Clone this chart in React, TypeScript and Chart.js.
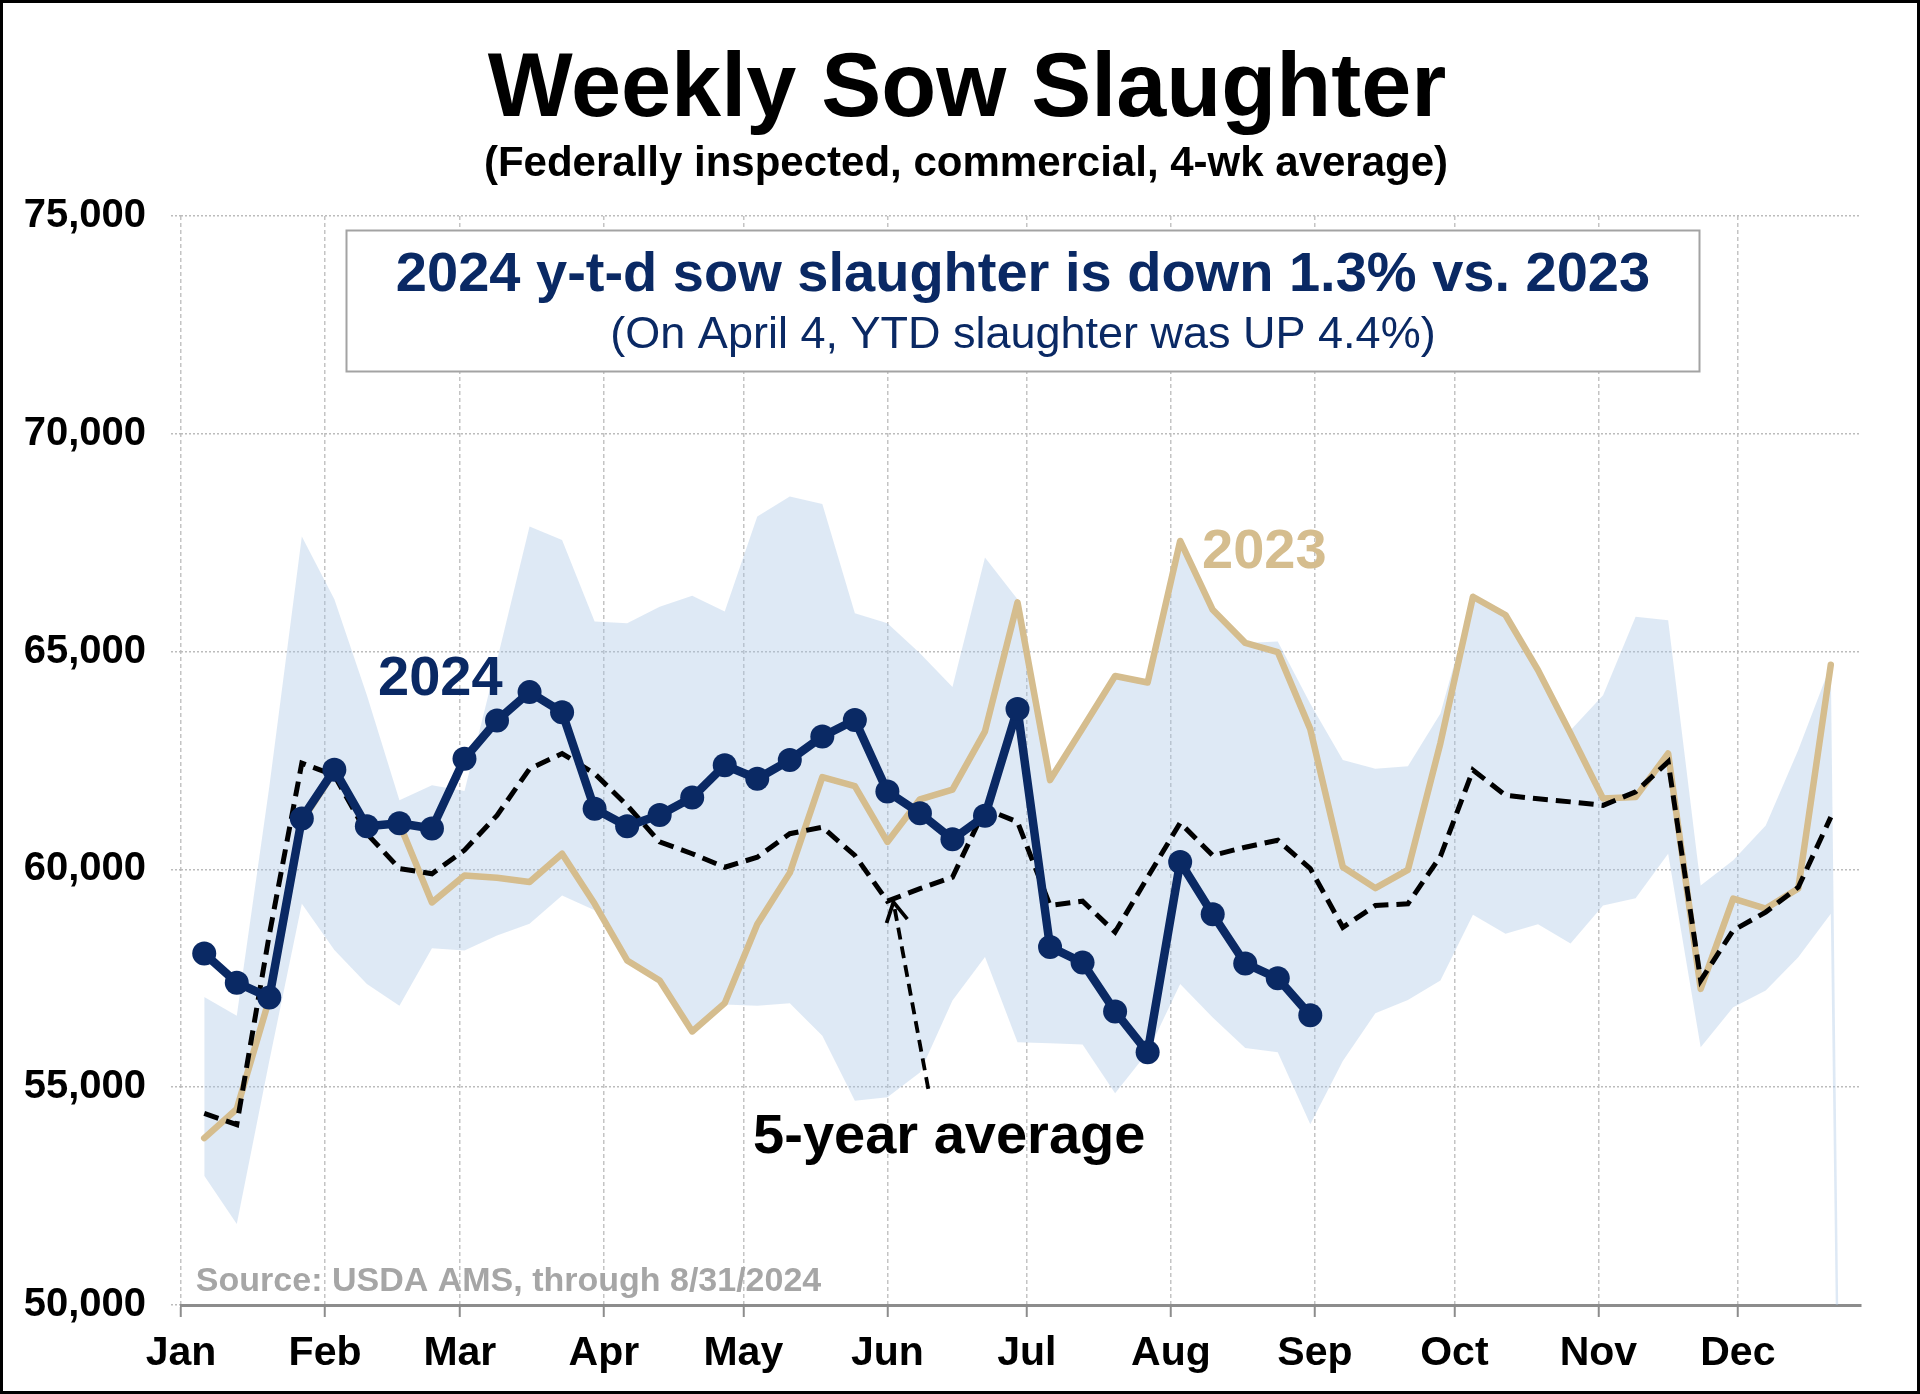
import React, { useEffect, useRef } from "react";
import { Chart, registerables } from "chart.js";

Chart.register(...registerables);

const FONT = '"Liberation Sans", Arial, Helvetica, sans-serif';
const NAVY = "#0a2964";
const TAN = "#d5bd8e";
const BAND = "rgba(168,197,229,0.38)";

// ---- axis definitions ----
const monthLabels = ["Jan", "Feb", "Mar", "Apr", "May", "Jun", "Jul", "Aug", "Sep", "Oct", "Nov", "Dec"];
const monthStartDays = [0, 31, 60, 91, 121, 152, 182, 213, 244, 274, 305, 335];
const yTicks = [50000, 55000, 60000, 65000, 70000, 75000];
const xMaxDay = 361.5;
const firstWeekEndingDay = 5; // Saturday Jan 6
const daysPerWeek = 7;

// ---- series (weekly, 4-wk average sow slaughter) ----
const sow2024 = [
  58070, 57400, 57060, 61170, 62290, 60990, 61060, 60940, 62540, 63420,
  64070, 63610, 61390, 60990, 61250, 61650, 62390, 62080, 62510, 63050,
  63430, 61790, 61290, 60690, 61230, 63680, 58220, 57860, 56740, 55800,
  60170, 58970, 57840, 57500, 56650,
];

const sow2023 = [
  53830, 54500, 57030, 61100, 62250, 61000, 61050, 59240, 59860, 59810,
  59710, 60360, 59210, 57910, 57450, 56280, 56930, 58740, 59920, 62120,
  61910, 60630, 61610, 61830, 63170, 66130, 62050, 63240, 64440, 64290,
  67540, 65960, 65200, 64990, 63220, 60055, 59570, 59990, 62900, 66260,
  65840, 64575, 63120, 61625, 61660, 62660, 57257, 59330, 59100, 59560,
  64700,
];

const fiveYearAvg = [
  54400, 54140, 58500, 62440, 62160, 60820, 60020, 59900, 60440, 61240,
  62310, 62660, 62200, 61470, 60630, 60360, 60050, 60280, 60820, 60970,
  60320, 59270, 59560, 59820, 61390, 61090, 59170, 59270, 58560, 59820,
  61070, 60320, 60510, 60670, 60020, 58670, 59170, 59210, 60300, 62280,
  61700, 61620, 61550, 61470, 61780, 62470, 57450, 58600, 59020, 59590,
  61200,
];

const rangeHigh = [
  57070, 56640, 61900, 67640, 66200, 64000, 61590, 61930, 61800, 64800,
  67870, 67560, 65690, 65650, 66030, 66280, 65920, 68100, 68560, 68390,
  65880, 65650, 64960, 64190, 67160, 66200, 62200, 63240, 64440, 64290,
  67540, 65960, 65200, 65230, 63800, 62510, 62310, 62370, 63580, 66260,
  65840, 64575, 63195, 64000, 65800, 65720, 59630, 60210, 61010, 62740,
  64700, 0,
];

const rangeLow = [
  52970, 51860, 55600, 59210, 58150, 57370, 56870, 58190, 58140, 58480,
  58750, 59400, 59060, 57910, 57450, 56280, 56900, 56870, 56930, 56180,
  54690, 54770, 55340, 56990, 57990, 56030, 56010, 55980, 54860, 55800,
  57370, 56600, 55900, 55800, 54150, 55600, 56700, 57000, 57450, 58960,
  58520, 58740, 58300, 59170, 59340, 60360, 55915, 56835, 57220, 57985,
  58980, 0,
];

// ---- annotation anchors (day of year, head count) ----
const label2024At = [42.4, 64000];
const label2023At = [219.7, 66920];
const labelAvgAt = [123.1, 53500];
const sourceAt = [3.2, 50320];
const arrowTip = [153.3, 59250];
const arrowTail = [160.8, 54960];

const weekDay = (i: number) => firstWeekEndingDay + daysPerWeek * i;
const toPoints = (arr: number[]) => arr.map((v, i) => ({ x: weekDay(i), y: v }));

const decorations = {
  id: "decorations",
  afterDatasetsDraw(chart: any) {
    const { ctx } = chart;
    const xs = chart.scales.x;
    const ys = chart.scales.y;
    const px = (d: number) => xs.getPixelForValue(d);
    const py = (v: number) => ys.getPixelForValue(v);
    ctx.save();
    // arrow to the 5-year average
    const tx = px(arrowTip[0]), ty = py(arrowTip[1]);
    const sx = px(arrowTail[0]), sy = py(arrowTail[1]);
    ctx.strokeStyle = "#000";
    ctx.lineWidth = 3.8;
    ctx.setLineDash([12, 7]);
    ctx.beginPath();
    ctx.moveTo(sx, sy);
    ctx.lineTo(tx, ty);
    ctx.stroke();
    ctx.setLineDash([]);
    const ang = Math.atan2(ty - sy, tx - sx);
    const L = 22, spread = 0.5;
    ctx.beginPath();
    ctx.moveTo(tx - L * Math.cos(ang - spread), ty - L * Math.sin(ang - spread));
    ctx.lineTo(tx, ty);
    ctx.lineTo(tx - L * Math.cos(ang + spread), ty - L * Math.sin(ang + spread));
    ctx.stroke();

    ctx.textAlign = "left";
    ctx.textBaseline = "alphabetic";
    ctx.font = `bold 56px ${FONT}`;
    ctx.fillStyle = NAVY;
    ctx.fillText("2024", px(label2024At[0]), py(label2024At[1]));
    ctx.fillStyle = TAN;
    ctx.fillText("2023", px(label2023At[0]), py(label2023At[1]));
    ctx.fillStyle = "#000";
    ctx.fillText("5-year average", px(labelAvgAt[0]), py(labelAvgAt[1]));
    ctx.font = `bold 34px ${FONT}`;
    ctx.fillStyle = "#a6a6a6";
    ctx.fillText("Source: USDA AMS, through 8/31/2024", px(sourceAt[0]), py(sourceAt[1]));
    ctx.restore();
  },
  afterDraw(chart: any) {
    const { ctx } = chart;
    ctx.save();
    ctx.fillStyle = "#000";
    ctx.textAlign = "center";
    ctx.textBaseline = "alphabetic";
    ctx.font = `bold 90px ${FONT}`;
    ctx.fillText("Weekly Sow Slaughter", 967, 116);
    ctx.font = `bold 42px ${FONT}`;
    ctx.fillText("(Federally inspected, commercial, 4-wk average)", 966, 176);

    // callout box
    ctx.fillStyle = "#fff";
    ctx.fillRect(346.5, 230.5, 1353, 141);
    ctx.strokeStyle = "#a3a3a3";
    ctx.lineWidth = 2;
    ctx.strokeRect(346.5, 230.5, 1353, 141);
    ctx.fillStyle = NAVY;
    ctx.font = `bold 56px ${FONT}`;
    ctx.fillText("2024 y-t-d sow slaughter is down 1.3% vs. 2023", 1023, 291);
    ctx.font = `45px ${FONT}`;
    ctx.fillText("(On April 4, YTD slaughter was UP 4.4%)", 1023, 348);

    // outer frame
    ctx.strokeStyle = "#000";
    ctx.lineWidth = 3;
    ctx.strokeRect(1.5, 1.5, 1917, 1391);
    ctx.restore();
  },
};

export default function App() {
  const ref = useRef<HTMLCanvasElement>(null);

  useEffect(() => {
    const canvas = ref.current;
    if (!canvas) return;
    const chart = new Chart(canvas, {
      type: "line",
      data: {
        datasets: [
          {
            label: "2024",
            data: toPoints(sow2024),
            borderColor: NAVY,
            backgroundColor: NAVY,
            borderWidth: 8.5,
            pointRadius: 12,
            pointBackgroundColor: NAVY,
            pointBorderColor: NAVY,
            pointBorderWidth: 0,
            borderJoinStyle: "round",
            borderCapStyle: "round",
            tension: 0,
            fill: false,
          },
          {
            label: "5-year average",
            data: toPoints(fiveYearAvg),
            borderColor: "#000",
            borderWidth: 5,
            borderDash: [15, 8],
            pointRadius: 0,
            tension: 0,
            fill: false,
          },
          {
            label: "2023",
            data: toPoints(sow2023),
            borderColor: TAN,
            borderWidth: 6.5,
            pointRadius: 0,
            borderJoinStyle: "round",
            borderCapStyle: "round",
            tension: 0,
            fill: false,
          },
          {
            label: "5-yr high",
            data: toPoints(rangeHigh),
            borderWidth: 0,
            borderColor: "rgba(0,0,0,0)",
            backgroundColor: BAND,
            pointRadius: 0,
            tension: 0,
            fill: "+1",
          },
          {
            label: "5-yr low",
            data: toPoints(rangeLow),
            borderWidth: 0,
            borderColor: "rgba(0,0,0,0)",
            pointRadius: 0,
            tension: 0,
            fill: false,
          },
        ],
      },
      options: {
        responsive: false,
        animation: false,
        devicePixelRatio: 1,
        events: [],
        layout: { padding: { top: 216, right: 59, bottom: 0, left: 0 } },
        plugins: {
          legend: { display: false },
          tooltip: { enabled: false },
          title: { display: false },
        },
        scales: {
          x: {
            type: "linear",
            min: 0,
            max: xMaxDay,
            afterBuildTicks: (s: any) => {
              s.ticks = monthStartDays.map((v) => ({ value: v }));
            },
            afterFit: (s: any) => {
              s.height = 89;
            },
            ticks: {
              callback: (v: any) => {
                const i = monthStartDays.indexOf(Number(v));
                return i >= 0 ? monthLabels[i] : "";
              },
              font: { family: FONT, size: 41, weight: "bold" },
              color: "#000",
              padding: 12,
              maxRotation: 0,
              autoSkip: false,
            },
            grid: {
              color: "#c4c4c4",
              lineWidth: 1.5,
              drawTicks: true,
              tickLength: 12,
              tickColor: "#8c8c8c",
              tickWidth: 2,
            },
            border: { display: true, color: "#8c8c8c", width: 3, dash: [4, 3] },
          },
          y: {
            type: "linear",
            min: 50000,
            max: 75000,
            afterBuildTicks: (s: any) => {
              s.ticks = yTicks.map((v) => ({ value: v }));
            },
            afterFit: (s: any) => {
              s.width = 181;
            },
            ticks: {
              callback: (v: any) => Number(v).toLocaleString("en-US"),
              font: { family: FONT, size: 40, weight: "bold" },
              color: "#000",
              padding: 25,
            },
            grid: {
              color: (c: any) => (c.tick && c.tick.value === 50000 ? "rgba(0,0,0,0)" : "#bcbcbc"),
              lineWidth: 1.5,
              drawTicks: true,
              tickLength: 10,
              tickColor: "#bcbcbc",
              tickWidth: 1.5,
              tickBorderDash: [2, 2],
            },
            border: { display: false, dash: [2, 2] },
          },
        },
      } as any,
      plugins: [decorations],
    });
    return () => chart.destroy();
  }, []);

  return (
    <div style={{ position: "absolute", left: 0, top: 0, width: 1920, height: 1394, background: "#fff" }}>
      <canvas ref={ref} width={1920} height={1394} style={{ display: "block", width: 1920, height: 1394 }} />
    </div>
  );
}
